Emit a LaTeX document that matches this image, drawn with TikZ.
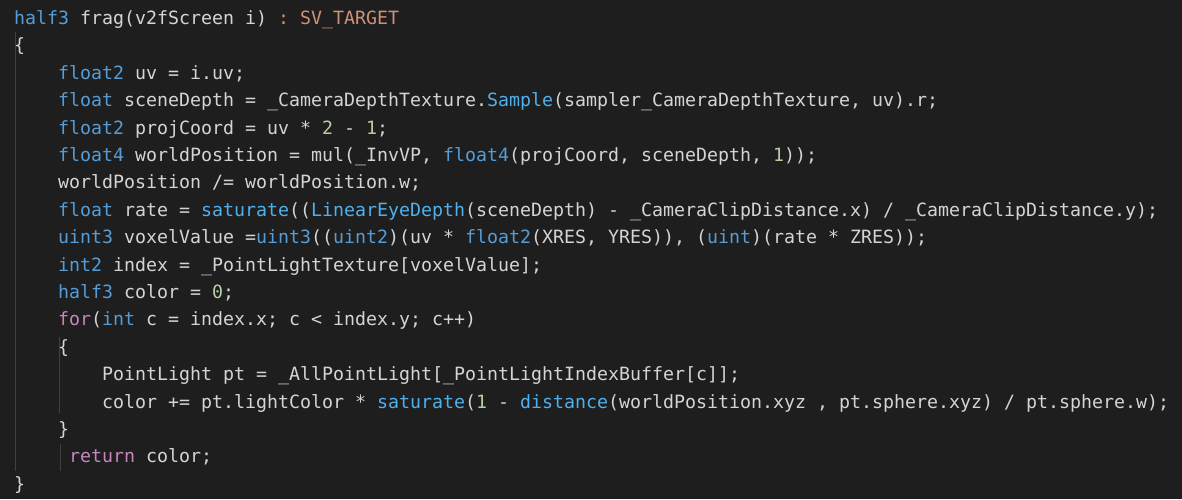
\documentclass[tikz,border=0pt]{standalone}
\usepackage{fontspec}
\setmonofont{DejaVu Sans Mono}[Scale=1.0]
\definecolor{bg}{HTML}{1E1E1E}
\definecolor{txt}{HTML}{D4D4D4}
\definecolor{kw}{HTML}{569CD6}
\definecolor{fn}{HTML}{4FB0EC}
\definecolor{nm}{HTML}{B5CEA8}
\definecolor{st}{HTML}{CE9178}
\definecolor{pk}{HTML}{C586C0}
\definecolor{guide}{HTML}{404040}
\newcommand{\Kw}[1]{\textcolor{kw}{#1}}
\newcommand{\Fn}[1]{\textcolor{fn}{#1}}
\newcommand{\Nm}[1]{\textcolor{nm}{#1}}
\newcommand{\St}[1]{\textcolor{st}{#1}}
\newcommand{\Pk}[1]{\textcolor{pk}{#1}}
\newcommand{\Ind}[1]{\hspace*{#1\dimexpr 11pt\relax}}
\begin{document}
\begin{tikzpicture}[x=1pt,y=-1pt,
  codeline/.style={anchor=base west,inner sep=0pt,text=txt,font=\ttfamily\fontsize{18.27pt}{20pt}\selectfont},
  guideline/.style={draw=guide,line width=1pt}]
\fill[bg] (0,0) rectangle (1182,499);
\useasboundingbox (0,0) rectangle (1182,499);
\coordinate (g1a) at (15,32); \coordinate (g1b) at (15,471);
\coordinate (g2a) at (59,337); \coordinate (g2b) at (59,413);
\coordinate (g3a) at (60,444); \coordinate (g3b) at (60,471);
\draw[guideline] (g1a) -- (g1b);
\draw[guideline] (g2a) -- (g2b);
\draw[guideline] (g3a) -- (g3b);
\def\by{24.5}
\def\dy{27.4}
\node[codeline] (l1) at (14,{\by+0*\dy}) {\Kw{half3} frag(v2fScreen i) \St{: SV\_TARGET}};
\node[codeline] (l2) at (14,{\by+1*\dy}) {\{};
\node[codeline] (l3) at (14,{\by+2*\dy}) {\Ind{4}\Kw{float2} uv = i.uv;};
\node[codeline] (l4) at (14,{\by+3*\dy}) {\Ind{4}\Kw{float} sceneDepth = \_CameraDepthTexture.\Fn{Sample}(sampler\_CameraDepthTexture, uv).r;};
\node[codeline] (l5) at (14,{\by+4*\dy}) {\Ind{4}\Kw{float2} projCoord = uv * \Nm{2} - \Nm{1};};
\node[codeline] (l6) at (14,{\by+5*\dy}) {\Ind{4}\Kw{float4} worldPosition = mul(\_InvVP, \Kw{float4}(projCoord, sceneDepth, \Nm{1}));};
\node[codeline] (l7) at (14,{\by+6*\dy}) {\Ind{4}worldPosition /= worldPosition.w;};
\node[codeline] (l8) at (14,{\by+7*\dy}) {\Ind{4}\Kw{float} rate = \Fn{saturate}((\Fn{LinearEyeDepth}(sceneDepth) - \_CameraClipDistance.x) / \_CameraClipDistance.y);};
\node[codeline] (l9) at (14,{\by+8*\dy}) {\Ind{4}\Kw{uint3} voxelValue =\Kw{uint3}((\Kw{uint2})(uv * \Kw{float2}(XRES, YRES)), (\Kw{uint})(rate * ZRES));};
\node[codeline] (l10) at (14,{\by+9*\dy}) {\Ind{4}\Kw{int2} index = \_PointLightTexture[voxelValue];};
\node[codeline] (l11) at (14,{\by+10*\dy}) {\Ind{4}\Kw{half3} color = \Nm{0};};
\node[codeline] (l12) at (14,{\by+11*\dy}) {\Ind{4}\Pk{for}(\Kw{int} c = index.x; c < index.y; c++)};
\node[codeline] (l13) at (14,{\by+12*\dy}) {\Ind{4}\{};
\node[codeline] (l14) at (14,{\by+13*\dy}) {\Ind{8}PointLight pt = \_AllPointLight[\_PointLightIndexBuffer[c]];};
\node[codeline] (l15) at (14,{\by+14*\dy}) {\Ind{8}color += pt.lightColor * \Fn{saturate}(\Nm{1} - \Fn{distance}(worldPosition.xyz , pt.sphere.xyz) / pt.sphere.w);};
\node[codeline] (l16) at (14,{\by+15*\dy}) {\Ind{4}\}};
\node[codeline] (l17) at (14,{\by+16*\dy}) {\Ind{5}\Pk{return} color;};
\node[codeline] (l18) at (14,{\by+17*\dy}) {\}};
\end{tikzpicture}
\end{document}
